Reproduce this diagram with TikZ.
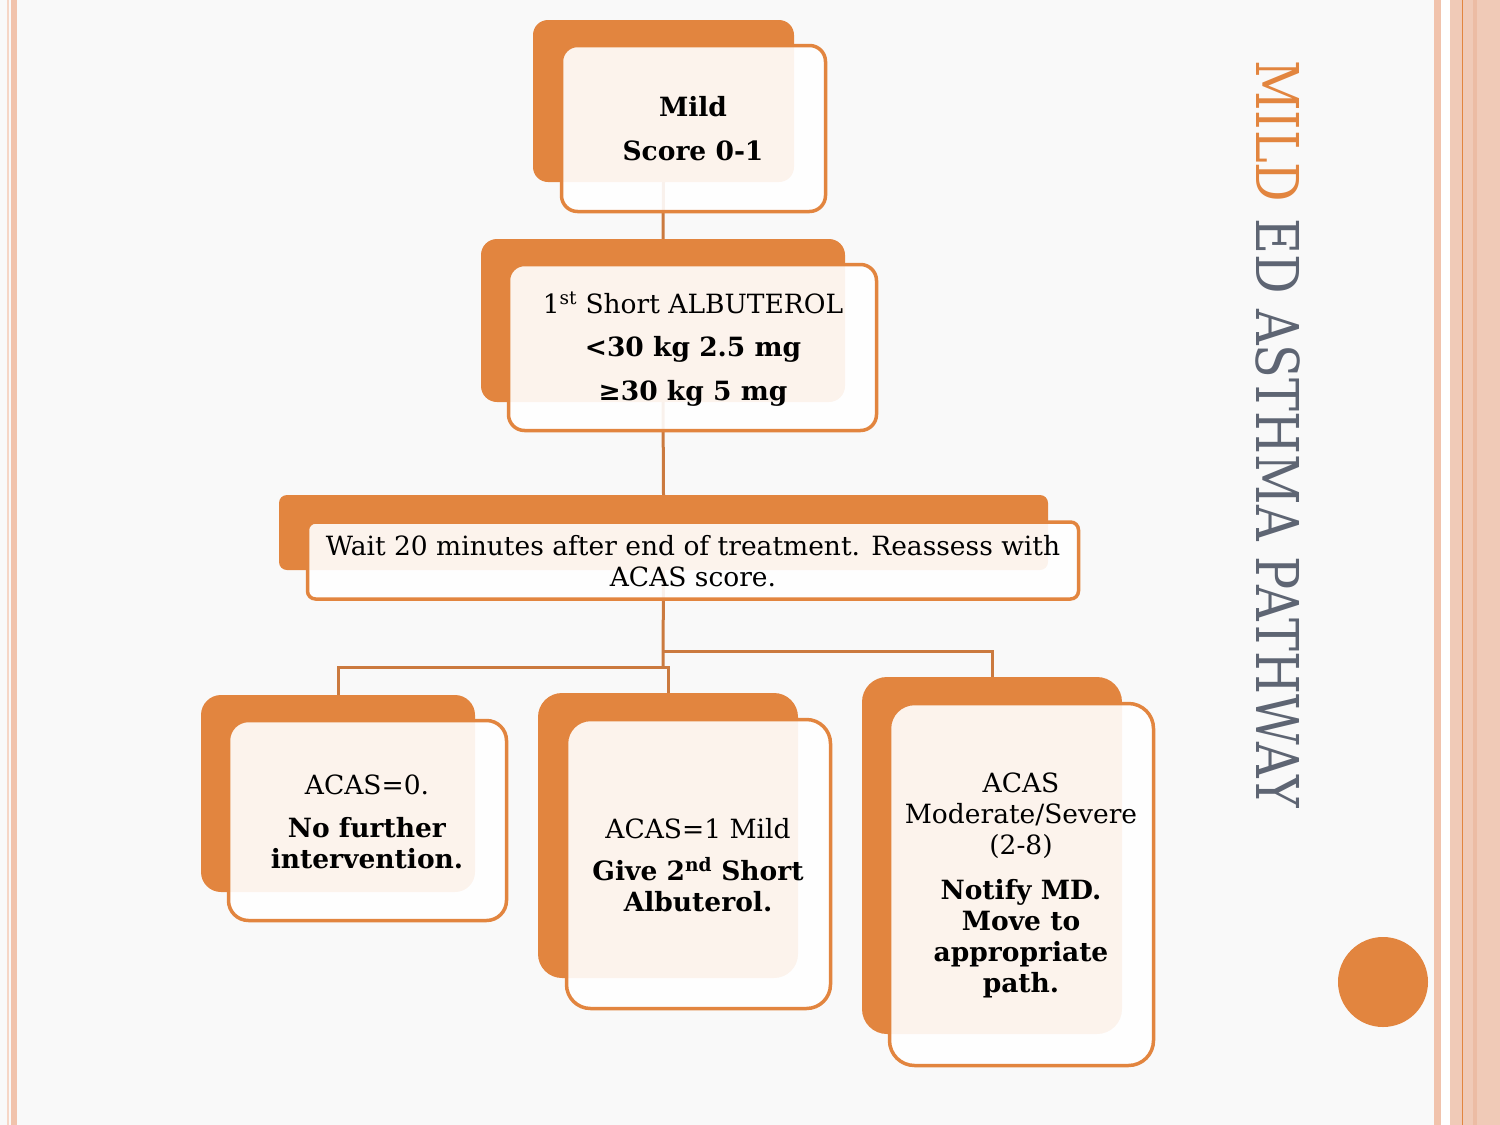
\documentclass[tikz,border=0pt]{standalone}
\usepackage{fontspec}
\setmainfont{DejaVu Serif}
\usepackage{graphicx}
\definecolor{accent}{HTML}{E2853F}
\definecolor{connc}{HTML}{CB7A3F}
\definecolor{titlegray}{HTML}{5E6573}
\definecolor{bgc}{HTML}{F9F9F9}
\definecolor{stripeA}{HTML}{F1C3AC}
\definecolor{stripeB}{HTML}{F6D6C6}
\definecolor{pinkfill}{HTML}{F0CAB7}
\definecolor{pinkdark}{HTML}{ECBCA4}
\tikzset{
  backbox/.style={fill=accent, draw=none, inner sep=0, rectangle},
  frontbox/.style={fill=white, fill opacity=0.9, draw=accent, draw opacity=1, line width=3.5, inner sep=0, rectangle},
  conn/.style={draw=connc, line width=3},
  txt/.style={align=center, inner sep=0, text=black, font=\fontsize{26.5}{31}\selectfont}
}
\begin{document}
\begin{tikzpicture}[x=1pt,y=-1pt]
\useasboundingbox (0,0) rectangle (1500,1125);
% background
\fill[bgc] (0,0) rectangle (1500,1125);
% left stripes
\fill[stripeB] (7,0) rectangle (9,1125);
\fill[stripeA] (11,0) rectangle (17,1125);
% right stripes
\fill[stripeA] (1434,0) rectangle (1441,1125);
\fill[white] (1441,0) rectangle (1450,1125);
\fill[pinkfill] (1450,0) rectangle (1500,1125);
\fill[pinkdark] (1473,0) rectangle (1477,1125);
\fill[accent] (1461.5,0) rectangle (1463,1125);
% circle
\fill[accent] (1383,982) circle (45);
% title
\node[rotate=-90, anchor=base west, inner sep=0] (title) at (1256,60)
  {\fontsize{59}{59}\selectfont\scalebox{0.836}[1]{\textcolor{accent}{MILD} \textcolor{titlegray}{ED ASTHMA PATHWAY}}};
% back boxes
\node[backbox, rounded corners=15, minimum width=261, minimum height=162] (b1) at (663.5,101) {};
\node[backbox, rounded corners=16, minimum width=364, minimum height=163] (b2) at (663,320.5) {};
\node[backbox, rounded corners=8, minimum width=769, minimum height=75] (b3) at (663.5,532.5) {};
\node[backbox, rounded corners=20, minimum width=274, minimum height=197] (b4) at (338,793.5) {};
\node[backbox, rounded corners=24, minimum width=260, minimum height=285] (b5) at (668,835.5) {};
\node[backbox, rounded corners=25, minimum width=260, minimum height=357] (b6) at (992,855.5) {};
% connectors
\coordinate (j1) at (663,667);
\coordinate (j2) at (663,651);
\draw[conn] (b1.south) -- (b2.north);
\draw[conn] (b2.south) -- (b3.north);
\draw[conn] (b3.south) -- (j1);
\draw[conn] (j1) -| (b4.north);
\draw[conn] (j1) -| (b5.north);
\draw[conn] (j2) -| (b6.north);
% front boxes
\node[frontbox, rounded corners=16, minimum width=264, minimum height=166] (f1) at (693.5,128.5) {};
\node[frontbox, rounded corners=16, minimum width=368, minimum height=166] (f2) at (692.5,347.5) {};
\node[frontbox, rounded corners=8, minimum width=771, minimum height=77] (f3) at (693,560.5) {};
\node[frontbox, rounded corners=20, minimum width=278, minimum height=200] (f4) at (367.5,820.5) {};
\node[frontbox, rounded corners=24, minimum width=264, minimum height=289] (f5) at (698.5,864) {};
\node[frontbox, rounded corners=25, minimum width=264, minimum height=362] (f6) at (1021.5,884.5) {};
% texts
\node[txt] (t1) at (693,129) {\textbf{Mild}\\[13pt]\textbf{Score 0-1}};
\node[txt] (t2) at (693,349) {1\textsuperscript{st} Short ALBUTEROL\\[12pt]\textbf{<30 kg 2.5 mg}\\[13pt]\textbf{≥30 kg 5 mg}};
\node[txt] (t3) at (693,561) {Wait 20 minutes after end of treatment. Reassess with\\ACAS score.};
\node[txt] (t4) at (367,822) {ACAS=0.\\[12pt]\textbf{No further}\\\textbf{intervention.}};
\node[txt] (t5) at (698,865) {ACAS=1 Mild\\[11pt]\textbf{Give 2\textsuperscript{nd} Short}\\\textbf{Albuterol.}};
\node[txt] (t6) at (1021,885) {ACAS\\Moderate/Severe\\(2-8)\\[14pt]\textbf{Notify MD.}\\\textbf{Move to}\\\textbf{appropriate}\\\textbf{path.}};
\end{tikzpicture}
\end{document}
